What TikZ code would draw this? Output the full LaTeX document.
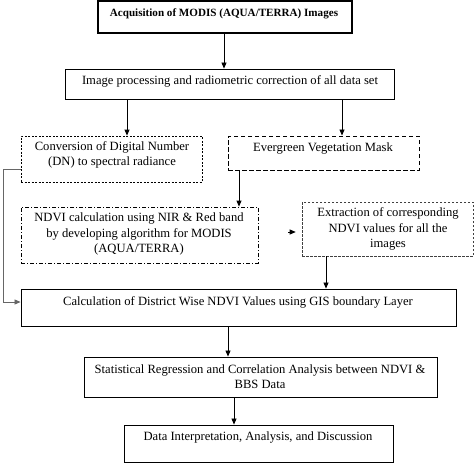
\documentclass[tikz,border=0pt]{standalone}
\usepackage{fontspec}
\setmainfont{Liberation Serif}
\usetikzlibrary{arrows.meta}
\begin{document}
\begin{tikzpicture}[x=1pt,y=-1pt,
  box/.style={draw=black,line width=0.9pt,inner sep=0pt,rectangle},
  txt/.style={inner sep=0pt,align=center,font=\fontsize{12.6}{15.2}\selectfont},
  arr/.style={-{Triangle[length=6pt,width=5pt]},line width=0.8pt},
  dotbox/.style={box,line width=0.8pt,dash pattern=on 2pt off 1.5pt},
  dashbox/.style={box,line width=1pt,dash pattern=on 4.5pt off 2.5pt},
  dashdotbox/.style={box,line width=0.8pt,dash pattern=on 4pt off 2pt on 1pt off 2pt},
  finebox/.style={box,line width=0.6pt,draw=black!75,dash pattern=on 2.5pt off 1.5pt}]
\useasboundingbox (0,0) rectangle (474,463);
% boxes
\node[box,line width=1.2pt,minimum width=254pt,minimum height=32pt] (b1) at (225,17) {};
\node[box,minimum width=329pt,minimum height=30pt] (b2) at (229.5,84) {};
\node[dotbox,minimum width=181pt,minimum height=46pt] (b3) at (111.5,159) {};
\node[dashbox,minimum width=191pt,minimum height=34pt] (b4) at (323.5,153) {};
\node[dashdotbox,minimum width=237pt,minimum height=56pt] (b5) at (139.5,235) {};
\node[finebox,minimum width=171pt,minimum height=54pt] (b6) at (387.5,229) {};
\node[box,minimum width=435pt,minimum height=37pt] (b7) at (238.5,307.5) {};
\node[box,minimum width=353pt,minimum height=40pt] (b8) at (260.5,377) {};
\node[box,minimum width=269pt,minimum height=37pt] (b9) at (258.5,443.5) {};
% texts
\node[txt,font=\fontsize{11.1}{13}\selectfont\bfseries] (t1) at (224,14) {Acquisition of MODIS (AQUA/TERRA) Images};
\node[txt] (t2) at (230,81) {Image processing and radiometric correction of all data set};
\node[txt] (t3) at (112,155) {Conversion of Digital Number\\(DN) to spectral radiance};
\node[txt] (t4) at (323,148) {Evergreen Vegetation Mask};
\node[txt] (t5) at (139,234) {NDVI calculation using NIR \& Red band\\by developing algorithm for MODIS\\(AQUA/TERRA)};
\node[txt] (t6) at (388,229) {Extraction of corresponding\\NDVI values for all the\\images};
\node[txt] (t7) at (238,302) {Calculation of District Wise NDVI Values using GIS boundary Layer};
\node[txt] (t8) at (260,377) {Statistical Regression and Correlation Analysis between NDVI \&\\BBS Data};
\node[txt] (t9) at (258,437) {Data Interpretation, Analysis, and Discussion};
% connectors
\draw[arr] (b1.south -| 224,0) -- (b2.north -| 224,0);
\draw[arr] (b2.south -| 127,0) -- (b3.north -| 127,0);
\draw[arr] (b2.south -| 342,0) -- (b4.north -| 342,0);
\draw[arr] (b4.south -| 239,0) -- (b5.north -| 239,0);
\coordinate (c6) at (288,232);
\draw[arr,shorten >=6pt] (c6) -- (b6.west |- c6);
\draw[arr] (b6.south -| 326,0) -- (b7.north -| 326,0);
\draw[arr,draw=black!60] (b3.west |- 0,169) -- (3,169) -- (3,302) -- (b7.west |- 0,302);
\draw[arr] (b7.south -| 228,0) -- (b8.north -| 228,0);
\draw[arr] (b8.south -| 234,0) -- (b9.north -| 234,0);
\end{tikzpicture}
\end{document}
